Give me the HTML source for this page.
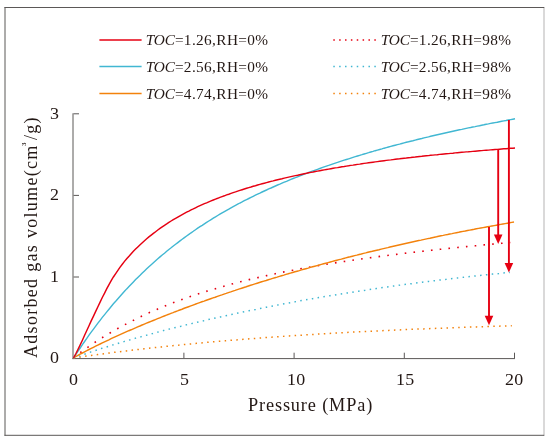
<!DOCTYPE html><html><head><meta charset="utf-8"><title>Adsorbed gas volume vs pressure</title>
<style>
html,body{margin:0;padding:0;background:#fff;}
body{width:550px;height:443px;position:relative;overflow:hidden;font-family:"Liberation Serif","Times New Roman",serif;color:#231815;}
.t{position:absolute;white-space:nowrap;line-height:1;}
.lg{font-size:15.3px;letter-spacing:0.37px;}
.lg i{letter-spacing:-0.1px;}
.tk{font-size:16px;transform:scaleX(1.12);transform-origin:0 0;}
.tk2{letter-spacing:0.3px;}
.ti{font-size:18.3px;letter-spacing:0.85px;}
.ty{font-size:18px;letter-spacing:1.3px;}
i{font-style:italic;}
sup{font-size:6.4px;font-weight:bold;vertical-align:baseline;position:relative;top:-11.4px;letter-spacing:0;margin-left:-1.3px;padding-right:2.55px;}
</style></head><body>
<svg width="550" height="443" viewBox="0 0 550 443" style="position:absolute;left:0;top:0">
<path d="M5,7 V435.8 M4.5,7.5 H544.2 M4.5,435.3 H544.2" fill="none" stroke="#5b5857" stroke-width="1"/>
<path d="M544,7 V435.8" fill="none" stroke="#5b5857" stroke-width="0.45"/>
<path d="M73.0,113.3 V359.1 M72.5,358.6 H515 M73.5,277.0 H79 M73.5,195.4 H79 M73.5,113.8 H79 M183.9,358.1 V352.7 M294.1,358.1 V352.7 M404.3,358.1 V352.7 M514.5,358.1 V352.7" fill="none" stroke="#5b5857" stroke-width="1"/>
<path d="M73.5,358.0 L75.7,357.7 L77.9,357.4 L80.1,357.0 L82.3,356.7 L84.5,356.4 L86.7,356.1 L88.9,355.8 L91.1,355.5 L93.3,355.2 L95.5,354.8 L97.7,354.5 L99.9,354.2 L102.1,354.0 L104.3,353.7 L106.5,353.4 L108.7,353.1 L110.9,352.8 L113.1,352.5 L115.3,352.2 L117.6,352.0 L119.8,351.7 L122.0,351.4 L124.2,351.1 L126.4,350.9 L128.6,350.6 L130.8,350.3 L133.0,350.1 L135.2,349.8 L137.4,349.6 L139.6,349.3 L141.8,349.1 L144.0,348.8 L146.2,348.6 L148.4,348.3 L150.6,348.1 L152.8,347.8 L155.0,347.6 L157.2,347.3 L159.4,347.1 L161.6,346.9 L163.8,346.6 L166.0,346.4 L168.2,346.2 L170.4,345.9 L172.6,345.7 L174.8,345.5 L177.0,345.3 L179.2,345.1 L181.4,344.8 L183.6,344.6 L185.8,344.4 L188.0,344.2 L190.2,344.0 L192.4,343.8 L194.6,343.5 L196.8,343.3 L199.0,343.1 L201.2,342.9 L203.4,342.7 L205.7,342.5 L207.9,342.3 L210.1,342.1 L212.3,341.9 L214.5,341.7 L216.7,341.5 L218.9,341.3 L221.1,341.2 L223.3,341.0 L225.5,340.8 L227.7,340.6 L229.9,340.4 L232.1,340.2 L234.3,340.0 L236.5,339.9 L238.7,339.7 L240.9,339.5 L243.1,339.3 L245.3,339.2 L247.5,339.0 L249.7,338.8 L251.9,338.6 L254.1,338.5 L256.3,338.3 L258.5,338.1 L260.7,338.0 L262.9,337.8 L265.1,337.6 L267.3,337.5 L269.5,337.3 L271.7,337.2 L273.9,337.0 L276.1,336.8 L278.3,336.7 L280.5,336.5 L282.7,336.4 L284.9,336.2 L287.1,336.1 L289.3,335.9 L291.5,335.8 L293.8,335.6 L296.0,335.5 L298.2,335.3 L300.4,335.2 L302.6,335.1 L304.8,334.9 L307.0,334.8 L309.2,334.6 L311.4,334.5 L313.6,334.4 L315.8,334.2 L318.0,334.1 L320.2,334.0 L322.4,333.8 L324.6,333.7 L326.8,333.6 L329.0,333.5 L331.2,333.3 L333.4,333.2 L335.6,333.1 L337.8,333.0 L340.0,332.8 L342.2,332.7 L344.4,332.6 L346.6,332.5 L348.8,332.3 L351.0,332.2 L353.2,332.1 L355.4,332.0 L357.6,331.9 L359.8,331.8 L362.0,331.7 L364.2,331.5 L366.4,331.4 L368.6,331.3 L370.8,331.2 L373.0,331.1 L375.2,331.0 L377.4,330.9 L379.6,330.8 L381.9,330.7 L384.1,330.6 L386.3,330.5 L388.5,330.4 L390.7,330.3 L392.9,330.2 L395.1,330.1 L397.3,330.0 L399.5,329.9 L401.7,329.8 L403.9,329.7 L406.1,329.6 L408.3,329.5 L410.5,329.4 L412.7,329.3 L414.9,329.2 L417.1,329.1 L419.3,329.0 L421.5,328.9 L423.7,328.9 L425.9,328.8 L428.1,328.7 L430.3,328.6 L432.5,328.5 L434.7,328.4 L436.9,328.3 L439.1,328.3 L441.3,328.2 L443.5,328.1 L445.7,328.0 L447.9,327.9 L450.1,327.8 L452.3,327.8 L454.5,327.7 L456.7,327.6 L458.9,327.5 L461.1,327.4 L463.3,327.4 L465.5,327.3 L467.7,327.2 L470.0,327.1 L472.2,327.1 L474.4,327.0 L476.6,326.9 L478.8,326.8 L481.0,326.8 L483.2,326.7 L485.4,326.6 L487.6,326.5 L489.8,326.5 L492.0,326.4 L494.2,326.3 L496.4,326.3 L498.6,326.2 L500.8,326.1 L503.0,326.1 L505.2,326.0 L507.4,325.9 L509.6,325.9 L511.8,325.8" fill="none" stroke="#f3820c" stroke-width="1.5" stroke-dasharray="1.5 4.35" stroke-dashoffset="-0.06"/>
<path d="M73.5,358.0 L75.7,357.2 L77.9,356.4 L80.1,355.7 L82.3,354.9 L84.5,354.2 L86.7,353.4 L88.9,352.7 L91.0,351.9 L93.2,351.2 L95.4,350.5 L97.6,349.8 L99.8,349.1 L102.0,348.3 L104.2,347.7 L106.4,347.0 L108.6,346.3 L110.8,345.6 L113.0,344.9 L115.2,344.2 L117.4,343.6 L119.6,342.9 L121.8,342.3 L123.9,341.6 L126.1,341.0 L128.3,340.3 L130.5,339.7 L132.7,339.1 L134.9,338.4 L137.1,337.8 L139.3,337.2 L141.5,336.6 L143.7,336.0 L145.9,335.4 L148.1,334.8 L150.3,334.2 L152.5,333.6 L154.7,333.0 L156.9,332.4 L159.0,331.8 L161.2,331.2 L163.4,330.6 L165.6,330.1 L167.8,329.5 L170.0,328.9 L172.2,328.4 L174.4,327.8 L176.6,327.3 L178.8,326.7 L181.0,326.2 L183.2,325.6 L185.4,325.1 L187.6,324.5 L189.8,324.0 L191.9,323.5 L194.1,322.9 L196.3,322.4 L198.5,321.9 L200.7,321.4 L202.9,320.9 L205.1,320.4 L207.3,319.8 L209.5,319.3 L211.7,318.8 L213.9,318.3 L216.1,317.8 L218.3,317.3 L220.5,316.9 L222.7,316.4 L224.8,315.9 L227.0,315.4 L229.2,314.9 L231.4,314.4 L233.6,314.0 L235.8,313.5 L238.0,313.0 L240.2,312.6 L242.4,312.1 L244.6,311.6 L246.8,311.2 L249.0,310.7 L251.2,310.3 L253.4,309.8 L255.6,309.4 L257.8,308.9 L259.9,308.5 L262.1,308.1 L264.3,307.6 L266.5,307.2 L268.7,306.8 L270.9,306.3 L273.1,305.9 L275.3,305.5 L277.5,305.1 L279.7,304.7 L281.9,304.2 L284.1,303.8 L286.3,303.4 L288.5,303.0 L290.7,302.6 L292.8,302.2 L295.0,301.8 L297.2,301.4 L299.4,301.0 L301.6,300.6 L303.8,300.2 L306.0,299.8 L308.2,299.4 L310.4,299.1 L312.6,298.7 L314.8,298.3 L317.0,297.9 L319.2,297.5 L321.4,297.2 L323.6,296.8 L325.7,296.4 L327.9,296.1 L330.1,295.7 L332.3,295.3 L334.5,295.0 L336.7,294.6 L338.9,294.3 L341.1,293.9 L343.3,293.6 L345.5,293.2 L347.7,292.9 L349.9,292.5 L352.1,292.2 L354.3,291.8 L356.5,291.5 L358.7,291.2 L360.8,290.8 L363.0,290.5 L365.2,290.2 L367.4,289.8 L369.6,289.5 L371.8,289.2 L374.0,288.9 L376.2,288.5 L378.4,288.2 L380.6,287.9 L382.8,287.6 L385.0,287.3 L387.2,287.0 L389.4,286.7 L391.6,286.3 L393.7,286.0 L395.9,285.7 L398.1,285.4 L400.3,285.1 L402.5,284.8 L404.7,284.5 L406.9,284.2 L409.1,284.0 L411.3,283.7 L413.5,283.4 L415.7,283.1 L417.9,282.8 L420.1,282.5 L422.3,282.2 L424.5,282.0 L426.6,281.7 L428.8,281.4 L431.0,281.1 L433.2,280.9 L435.4,280.6 L437.6,280.3 L439.8,280.0 L442.0,279.8 L444.2,279.5 L446.4,279.3 L448.6,279.0 L450.8,278.7 L453.0,278.5 L455.2,278.2 L457.4,278.0 L459.6,277.7 L461.7,277.5 L463.9,277.2 L466.1,277.0 L468.3,276.7 L470.5,276.5 L472.7,276.2 L474.9,276.0 L477.1,275.8 L479.3,275.5 L481.5,275.3 L483.7,275.1 L485.9,274.8 L488.1,274.6 L490.3,274.4 L492.5,274.1 L494.6,273.9 L496.8,273.7 L499.0,273.5 L501.2,273.2 L503.4,273.0 L505.6,272.8 L507.8,272.6 L510.0,272.4" fill="none" stroke="#41b7d2" stroke-width="1.5" stroke-dasharray="1.5 4.36" stroke-dashoffset="-5.61"/>
<path d="M73.5,358.0 L75.7,356.2 L77.9,354.5 L80.1,352.8 L82.3,351.2 L84.5,349.6 L86.7,348.0 L88.9,346.5 L91.1,345.0 L93.3,343.5 L95.4,342.0 L97.6,340.6 L99.8,339.2 L102.0,337.8 L104.2,336.5 L106.4,335.1 L108.6,333.8 L110.8,332.5 L113.0,331.2 L115.2,330.0 L117.4,328.7 L119.6,327.5 L121.8,326.3 L124.0,325.1 L126.2,324.0 L128.4,322.8 L130.6,321.7 L132.8,320.6 L135.0,319.5 L137.2,318.4 L139.3,317.3 L141.5,316.3 L143.7,315.3 L145.9,314.2 L148.1,313.2 L150.3,312.2 L152.5,311.3 L154.7,310.3 L156.9,309.4 L159.1,308.4 L161.3,307.5 L163.5,306.6 L165.7,305.7 L167.9,304.8 L170.1,304.0 L172.3,303.1 L174.5,302.3 L176.7,301.4 L178.9,300.6 L181.1,299.8 L183.2,299.0 L185.4,298.3 L187.6,297.5 L189.8,296.7 L192.0,296.0 L194.2,295.3 L196.4,294.5 L198.6,293.8 L200.8,293.1 L203.0,292.4 L205.2,291.7 L207.4,291.0 L209.6,290.4 L211.8,289.7 L214.0,289.1 L216.2,288.4 L218.4,287.8 L220.6,287.1 L222.8,286.5 L225.0,285.9 L227.1,285.3 L229.3,284.7 L231.5,284.1 L233.7,283.5 L235.9,283.0 L238.1,282.4 L240.3,281.8 L242.5,281.3 L244.7,280.7 L246.9,280.2 L249.1,279.6 L251.3,279.1 L253.5,278.6 L255.7,278.1 L257.9,277.6 L260.1,277.1 L262.3,276.6 L264.5,276.1 L266.7,275.6 L268.9,275.1 L271.0,274.6 L273.2,274.2 L275.4,273.7 L277.6,273.2 L279.8,272.8 L282.0,272.3 L284.2,271.9 L286.4,271.5 L288.6,271.0 L290.8,270.6 L293.0,270.2 L295.2,269.8 L297.4,269.4 L299.6,268.9 L301.8,268.5 L304.0,268.1 L306.2,267.7 L308.4,267.3 L310.6,267.0 L312.8,266.6 L314.9,266.2 L317.1,265.8 L319.3,265.4 L321.5,265.1 L323.7,264.7 L325.9,264.4 L328.1,264.0 L330.3,263.6 L332.5,263.3 L334.7,262.9 L336.9,262.6 L339.1,262.3 L341.3,261.9 L343.5,261.6 L345.7,261.3 L347.9,260.9 L350.1,260.6 L352.3,260.3 L354.5,260.0 L356.7,259.6 L358.8,259.3 L361.0,259.0 L363.2,258.7 L365.4,258.4 L367.6,258.1 L369.8,257.8 L372.0,257.5 L374.2,257.2 L376.4,256.9 L378.6,256.6 L380.8,256.3 L383.0,256.0 L385.2,255.8 L387.4,255.5 L389.6,255.2 L391.8,254.9 L394.0,254.7 L396.2,254.4 L398.4,254.1 L400.6,253.8 L402.7,253.6 L404.9,253.3 L407.1,253.0 L409.3,252.8 L411.5,252.5 L413.7,252.3 L415.9,252.0 L418.1,251.8 L420.3,251.5 L422.5,251.3 L424.7,251.0 L426.9,250.8 L429.1,250.5 L431.3,250.3 L433.5,250.0 L435.7,249.8 L437.9,249.6 L440.1,249.3 L442.3,249.1 L444.5,248.9 L446.6,248.6 L448.8,248.4 L451.0,248.2 L453.2,248.0 L455.4,247.7 L457.6,247.5 L459.8,247.3 L462.0,247.1 L464.2,246.8 L466.4,246.6 L468.6,246.4 L470.8,246.2 L473.0,246.0 L475.2,245.8 L477.4,245.6 L479.6,245.4 L481.8,245.1 L484.0,244.9 L486.2,244.7 L488.4,244.5 L490.5,244.3 L492.7,244.1 L494.9,243.9 L497.1,243.7 L499.3,243.5 L501.5,243.3 L503.7,243.1 L505.9,242.9 L508.1,242.7 L510.3,242.5" fill="none" stroke="#e60012" stroke-width="1.6" stroke-dasharray="1.6 7.20" stroke-dashoffset="-8.58"/>
<path d="M73.5,358.0 L75.7,356.7 L77.9,355.4 L80.1,354.2 L82.4,353.0 L84.6,351.8 L86.8,350.7 L89.0,349.5 L91.2,348.4 L93.4,347.3 L95.6,346.2 L97.8,345.1 L100.1,344.0 L102.3,342.9 L104.5,341.8 L106.7,340.8 L108.9,339.8 L111.1,338.7 L113.3,337.7 L115.6,336.7 L117.8,335.7 L120.0,334.7 L122.2,333.7 L124.4,332.7 L126.6,331.7 L128.8,330.7 L131.1,329.8 L133.3,328.8 L135.5,327.9 L137.7,326.9 L139.9,326.0 L142.1,325.0 L144.3,324.1 L146.5,323.2 L148.8,322.3 L151.0,321.4 L153.2,320.5 L155.4,319.6 L157.6,318.7 L159.8,317.8 L162.0,316.9 L164.3,316.0 L166.5,315.1 L168.7,314.3 L170.9,313.4 L173.1,312.6 L175.3,311.7 L177.5,310.9 L179.8,310.0 L182.0,309.2 L184.2,308.3 L186.4,307.5 L188.6,306.7 L190.8,305.9 L193.0,305.1 L195.2,304.3 L197.5,303.4 L199.7,302.6 L201.9,301.8 L204.1,301.1 L206.3,300.3 L208.5,299.5 L210.7,298.7 L213.0,297.9 L215.2,297.2 L217.4,296.4 L219.6,295.6 L221.8,294.9 L224.0,294.1 L226.2,293.4 L228.4,292.6 L230.7,291.9 L232.9,291.1 L235.1,290.4 L237.3,289.6 L239.5,288.9 L241.7,288.2 L243.9,287.5 L246.2,286.8 L248.4,286.0 L250.6,285.3 L252.8,284.6 L255.0,283.9 L257.2,283.2 L259.4,282.5 L261.7,281.8 L263.9,281.1 L266.1,280.5 L268.3,279.8 L270.5,279.1 L272.7,278.4 L274.9,277.7 L277.1,277.1 L279.4,276.4 L281.6,275.7 L283.8,275.1 L286.0,274.4 L288.2,273.8 L290.4,273.1 L292.6,272.5 L294.9,271.8 L297.1,271.2 L299.3,270.6 L301.5,269.9 L303.7,269.3 L305.9,268.7 L308.1,268.1 L310.4,267.4 L312.6,266.8 L314.8,266.2 L317.0,265.6 L319.2,265.0 L321.4,264.4 L323.6,263.8 L325.8,263.2 L328.1,262.6 L330.3,262.0 L332.5,261.4 L334.7,260.8 L336.9,260.2 L339.1,259.6 L341.3,259.1 L343.6,258.5 L345.8,257.9 L348.0,257.3 L350.2,256.8 L352.4,256.2 L354.6,255.6 L356.8,255.1 L359.1,254.5 L361.3,254.0 L363.5,253.4 L365.7,252.9 L367.9,252.3 L370.1,251.8 L372.3,251.3 L374.5,250.7 L376.8,250.2 L379.0,249.7 L381.2,249.1 L383.4,248.6 L385.6,248.1 L387.8,247.6 L390.0,247.0 L392.3,246.5 L394.5,246.0 L396.7,245.5 L398.9,245.0 L401.1,244.5 L403.3,244.0 L405.5,243.5 L407.7,243.0 L410.0,242.5 L412.2,242.0 L414.4,241.5 L416.6,241.0 L418.8,240.5 L421.0,240.1 L423.2,239.6 L425.5,239.1 L427.7,238.6 L429.9,238.2 L432.1,237.7 L434.3,237.2 L436.5,236.8 L438.7,236.3 L441.0,235.8 L443.2,235.4 L445.4,234.9 L447.6,234.5 L449.8,234.0 L452.0,233.6 L454.2,233.1 L456.4,232.7 L458.7,232.3 L460.9,231.8 L463.1,231.4 L465.3,231.0 L467.5,230.5 L469.7,230.1 L471.9,229.7 L474.2,229.3 L476.4,228.8 L478.6,228.4 L480.8,228.0 L483.0,227.6 L485.2,227.2 L487.4,226.8 L489.7,226.4 L491.9,226.0 L494.1,225.6 L496.3,225.2 L498.5,224.8 L500.7,224.4 L502.9,224.0 L505.1,223.6 L507.4,223.2 L509.6,222.8 L511.8,222.4 L514.0,222.0" fill="none" stroke="#f3820c" stroke-width="1.45"/>
<path d="M73.5,358.0 L75.7,354.7 L77.9,351.3 L80.2,348.0 L82.4,344.7 L84.6,341.5 L86.8,338.3 L89.0,335.2 L91.2,332.1 L93.5,329.1 L95.7,326.1 L97.9,323.2 L100.1,320.3 L102.3,317.4 L104.6,314.6 L106.8,311.9 L109.0,309.2 L111.2,306.5 L113.4,303.8 L115.7,301.3 L117.9,298.7 L120.1,296.2 L122.3,293.7 L124.5,291.3 L126.7,288.9 L129.0,286.5 L131.2,284.2 L133.4,281.9 L135.6,279.6 L137.8,277.4 L140.1,275.2 L142.3,273.0 L144.5,270.9 L146.7,268.8 L148.9,266.7 L151.2,264.7 L153.4,262.7 L155.6,260.7 L157.8,258.8 L160.0,256.9 L162.2,255.0 L164.5,253.2 L166.7,251.3 L168.9,249.5 L171.1,247.8 L173.3,246.0 L175.6,244.3 L177.8,242.6 L180.0,240.9 L182.2,239.2 L184.4,237.6 L186.6,236.0 L188.9,234.4 L191.1,232.8 L193.3,231.3 L195.5,229.7 L197.7,228.2 L200.0,226.7 L202.2,225.3 L204.4,223.8 L206.6,222.4 L208.8,221.0 L211.1,219.6 L213.3,218.2 L215.5,216.9 L217.7,215.5 L219.9,214.2 L222.1,212.9 L224.4,211.6 L226.6,210.3 L228.8,209.1 L231.0,207.8 L233.2,206.6 L235.5,205.4 L237.7,204.2 L239.9,203.0 L242.1,201.9 L244.3,200.7 L246.6,199.6 L248.8,198.5 L251.0,197.4 L253.2,196.3 L255.4,195.2 L257.6,194.1 L259.9,193.1 L262.1,192.0 L264.3,191.0 L266.5,190.0 L268.7,188.9 L271.0,188.0 L273.2,187.0 L275.4,186.0 L277.6,185.0 L279.8,184.1 L282.0,183.1 L284.3,182.2 L286.5,181.3 L288.7,180.3 L290.9,179.4 L293.1,178.5 L295.4,177.7 L297.6,176.8 L299.8,175.9 L302.0,175.0 L304.2,174.2 L306.5,173.4 L308.7,172.5 L310.9,171.7 L313.1,170.9 L315.3,170.1 L317.5,169.3 L319.8,168.5 L322.0,167.7 L324.2,166.9 L326.4,166.1 L328.6,165.4 L330.9,164.6 L333.1,163.8 L335.3,163.1 L337.5,162.4 L339.7,161.6 L341.9,160.9 L344.2,160.2 L346.4,159.5 L348.6,158.8 L350.8,158.1 L353.0,157.4 L355.3,156.7 L357.5,156.0 L359.7,155.3 L361.9,154.7 L364.1,154.0 L366.4,153.3 L368.6,152.7 L370.8,152.0 L373.0,151.4 L375.2,150.7 L377.4,150.1 L379.7,149.5 L381.9,148.9 L384.1,148.2 L386.3,147.6 L388.5,147.0 L390.8,146.4 L393.0,145.8 L395.2,145.2 L397.4,144.6 L399.6,144.1 L401.9,143.5 L404.1,142.9 L406.3,142.3 L408.5,141.8 L410.7,141.2 L412.9,140.7 L415.2,140.1 L417.4,139.5 L419.6,139.0 L421.8,138.5 L424.0,137.9 L426.3,137.4 L428.5,136.9 L430.7,136.3 L432.9,135.8 L435.1,135.3 L437.3,134.8 L439.6,134.3 L441.8,133.8 L444.0,133.3 L446.2,132.8 L448.4,132.3 L450.7,131.8 L452.9,131.3 L455.1,130.8 L457.3,130.3 L459.5,129.8 L461.8,129.4 L464.0,128.9 L466.2,128.4 L468.4,127.9 L470.6,127.5 L472.8,127.0 L475.1,126.6 L477.3,126.1 L479.5,125.7 L481.7,125.2 L483.9,124.8 L486.2,124.3 L488.4,123.9 L490.6,123.4 L492.8,123.0 L495.0,122.6 L497.3,122.2 L499.5,121.7 L501.7,121.3 L503.9,120.9 L506.1,120.5 L508.3,120.0 L510.6,119.6 L512.8,119.2 L515.0,118.8" fill="none" stroke="#41b7d2" stroke-width="1.4"/>
<path d="M73.5,358.0 L75.7,354.0 L77.9,349.6 L80.2,344.9 L82.4,340.2 L84.6,335.3 L86.8,330.5 L89.0,325.7 L91.2,320.9 L93.5,316.1 L95.7,311.4 L97.9,306.7 L100.1,302.1 L102.3,297.5 L104.6,293.1 L106.8,288.7 L109.0,284.6 L111.2,280.7 L113.4,277.0 L115.7,273.6 L117.9,270.3 L120.1,267.2 L122.3,264.2 L124.5,261.4 L126.7,258.7 L129.0,256.2 L131.2,253.7 L133.4,251.3 L135.6,249.1 L137.8,246.9 L140.1,244.7 L142.3,242.7 L144.5,240.7 L146.7,238.8 L148.9,236.9 L151.2,235.1 L153.4,233.4 L155.6,231.7 L157.8,230.0 L160.0,228.4 L162.2,226.9 L164.5,225.3 L166.7,223.9 L168.9,222.4 L171.1,221.0 L173.3,219.7 L175.6,218.4 L177.8,217.1 L180.0,215.8 L182.2,214.6 L184.4,213.4 L186.6,212.2 L188.9,211.1 L191.1,209.9 L193.3,208.9 L195.5,207.8 L197.7,206.7 L200.0,205.7 L202.2,204.7 L204.4,203.7 L206.6,202.8 L208.8,201.8 L211.1,200.9 L213.3,200.0 L215.5,199.1 L217.7,198.3 L219.9,197.4 L222.1,196.6 L224.4,195.8 L226.6,194.9 L228.8,194.2 L231.0,193.4 L233.2,192.6 L235.5,191.9 L237.7,191.1 L239.9,190.4 L242.1,189.7 L244.3,189.0 L246.6,188.3 L248.8,187.6 L251.0,187.0 L253.2,186.3 L255.4,185.7 L257.6,185.0 L259.9,184.4 L262.1,183.8 L264.3,183.2 L266.5,182.6 L268.7,182.0 L271.0,181.4 L273.2,180.9 L275.4,180.3 L277.6,179.7 L279.8,179.2 L282.0,178.7 L284.3,178.1 L286.5,177.6 L288.7,177.1 L290.9,176.6 L293.1,176.1 L295.4,175.6 L297.6,175.2 L299.8,174.7 L302.0,174.2 L304.2,173.7 L306.5,173.3 L308.7,172.8 L310.9,172.4 L313.1,172.0 L315.3,171.5 L317.5,171.1 L319.8,170.7 L322.0,170.3 L324.2,169.9 L326.4,169.5 L328.6,169.1 L330.9,168.7 L333.1,168.3 L335.3,167.9 L337.5,167.6 L339.7,167.2 L341.9,166.8 L344.2,166.5 L346.4,166.1 L348.6,165.8 L350.8,165.4 L353.0,165.1 L355.3,164.7 L357.5,164.4 L359.7,164.1 L361.9,163.7 L364.1,163.4 L366.4,163.1 L368.6,162.8 L370.8,162.5 L373.0,162.2 L375.2,161.9 L377.4,161.6 L379.7,161.3 L381.9,161.0 L384.1,160.7 L386.3,160.4 L388.5,160.1 L390.8,159.9 L393.0,159.6 L395.2,159.3 L397.4,159.0 L399.6,158.8 L401.9,158.5 L404.1,158.2 L406.3,158.0 L408.5,157.7 L410.7,157.5 L412.9,157.2 L415.2,157.0 L417.4,156.7 L419.6,156.5 L421.8,156.3 L424.0,156.0 L426.3,155.8 L428.5,155.6 L430.7,155.3 L432.9,155.1 L435.1,154.9 L437.3,154.7 L439.6,154.4 L441.8,154.2 L444.0,154.0 L446.2,153.8 L448.4,153.6 L450.7,153.4 L452.9,153.2 L455.1,152.9 L457.3,152.7 L459.5,152.5 L461.8,152.3 L464.0,152.1 L466.2,151.9 L468.4,151.8 L470.6,151.6 L472.8,151.4 L475.1,151.2 L477.3,151.0 L479.5,150.8 L481.7,150.6 L483.9,150.4 L486.2,150.2 L488.4,150.1 L490.6,149.9 L492.8,149.7 L495.0,149.5 L497.3,149.4 L499.5,149.2 L501.7,149.0 L503.9,148.8 L506.1,148.7 L508.3,148.5 L510.6,148.3 L512.8,148.2 L515.0,148.0" fill="none" stroke="#e60012" stroke-width="1.45"/>
<path d="M508.9,120 V263.9" stroke="#e60012" stroke-width="1.9" fill="none"/><path d="M504.59999999999997,262.9 H513.1999999999999 L508.9,272.4 Z" fill="#e60012"/>
<path d="M498.2,149.5 V235.4" stroke="#e60012" stroke-width="1.9" fill="none"/><path d="M493.9,234.4 H502.5 L498.2,243.9 Z" fill="#e60012"/>
<path d="M489,227 V316.8" stroke="#e60012" stroke-width="1.9" fill="none"/><path d="M484.7,315.8 H493.3 L489,325.3 Z" fill="#e60012"/>
<path d="M99.4,40 H141.6" stroke="#e60012" stroke-width="1.4"/>
<path d="M333.3,40 H376" stroke="#e60012" stroke-width="1.5" stroke-dasharray="1.5 4.36"/>
<path d="M99.4,66.5 H141.6" stroke="#41b7d2" stroke-width="1.4"/>
<path d="M333.3,66.5 H376" stroke="#41b7d2" stroke-width="1.5" stroke-dasharray="1.5 4.36"/>
<path d="M99.4,93.5 H141.6" stroke="#f3820c" stroke-width="1.4"/>
<path d="M333.3,93.5 H376" stroke="#f3820c" stroke-width="1.5" stroke-dasharray="1.5 4.36"/>
</svg>
<div class="t lg" style="left:145.7px;top:31.9px"><i>TOC</i>=1.26,RH=0%</div>
<div class="t lg" style="left:380.7px;top:31.9px"><i>TOC</i>=1.26,RH=98%</div>
<div class="t lg" style="left:145.7px;top:58.9px"><i>TOC</i>=2.56,RH=0%</div>
<div class="t lg" style="left:380.7px;top:58.9px"><i>TOC</i>=2.56,RH=98%</div>
<div class="t lg" style="left:145.7px;top:85.9px"><i>TOC</i>=4.74,RH=0%</div>
<div class="t lg" style="left:380.7px;top:85.9px"><i>TOC</i>=4.74,RH=98%</div>
<div class="t tk" style="left:50.1px;top:350.4px">0</div>
<div class="t tk" style="left:50.1px;top:268.8px">1</div>
<div class="t tk" style="left:50.1px;top:187.2px">2</div>
<div class="t tk" style="left:50.1px;top:105.6px">3</div>
<div class="t tk" style="left:69.3px;top:371.5px">0</div>
<div class="t tk" style="left:179.7px;top:371.5px">5</div>
<div class="t tk tk2" style="left:287.0px;top:371.5px">10</div>
<div class="t tk tk2" style="left:396.0px;top:371.5px">15</div>
<div class="t tk tk2" style="left:505.0px;top:371.5px">20</div>
<div class="t ti" style="left:248px;top:396.1px">Pressure (MPa)</div>
<div class="t ti ty" style="left:40.3px;top:358px;transform-origin:0 0;transform:rotate(-90deg) translateY(-100%);">Adsorbed gas volume(cm<sup>3</sup>/g)</div>
</body></html>
